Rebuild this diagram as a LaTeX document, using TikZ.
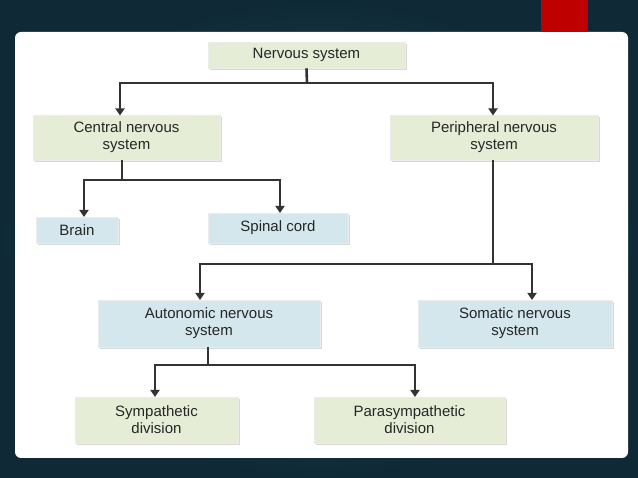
\documentclass[tikz,border=0pt]{standalone}
\usepackage{fontspec}
\setmainfont{Liberation Sans}
\usetikzlibrary{arrows.meta,shadows}
\definecolor{bgA}{HTML}{1E4A5A}
\definecolor{bgB}{HTML}{0F2A36}
\definecolor{grn}{HTML}{E6EDD6}
\definecolor{blu}{HTML}{D3E7EC}
\definecolor{ln}{HTML}{333333}
\begin{document}
\begin{tikzpicture}[x=1pt,y=-1pt,
 box/.style={draw=white!85!gray,line width=0.6pt,inner sep=0pt,align=center,text=black!85,
   font=\fontsize{15}{17}\selectfont,drop shadow={shadow xshift=2pt,shadow yshift=-2pt,fill=gray!60}},
 g/.style={box,fill=grn},
 b/.style={box,fill=blu},
 con/.style={draw=ln,line width=2.6pt},
 arr/.style={con,-{Triangle[length=7pt,width=9pt]}}]
\useasboundingbox (0,0) rectangle (638,478);
\shade[inner color=bgA,outer color=bgB] (0,0) rectangle (638,478);
\fill[white] (15,32) [rounded corners=6pt] rectangle (628,458);
\fill[red!75!black] (541,0) rectangle (588,32);
\node[g,minimum width=197pt,minimum height=26pt] (ns) at (306.5,55) {Nervous system};
\node[g,minimum width=187pt,minimum height=45pt] (cns) at (126.5,137.5) {Central nervous\\system};
\node[g,minimum width=208pt,minimum height=45pt] (pns) at (494,137.5) {Peripheral nervous\\system};
\node[b,minimum width=82pt,minimum height=26pt] (br) at (77,230) {Brain};
\node[b,minimum width=140pt,minimum height=30pt] (sc) at (278,228) {Spinal cord};
\node[b,minimum width=222pt,minimum height=47pt] (ans) at (209,323.5) {Autonomic nervous\\system};
\node[b,minimum width=194pt,minimum height=47pt] (sns) at (515,323.5) {Somatic nervous\\system};
\node[g,minimum width=163pt,minimum height=46pt] (sym) at (156.5,420) {Sympathetic\\division};
\node[g,minimum width=191pt,minimum height=46pt] (par) at (409.5,420) {Parasympathetic\\division};
\coordinate (j1) at (307,83);
\coordinate (j2) at (122,180);
\coordinate (j3) at (493,264);
\coordinate (j4) at (208,365);
\draw[con] (ns.south) -- (j1);
\draw[arr] (j1) -| (120,115.5);
\draw[arr] (j1) -| (493,115.5);
\draw[con] (122,160) -- (j2);
\draw[arr] (j2) -| (84,217);
\draw[arr] (j2) -| (280,213);
\draw[con] (493,160) -- (j3);
\draw[arr] (j3) -| (200,300);
\draw[arr] (j3) -| (532,300);
\draw[con] (208,347) -- (j4);
\draw[arr] (j4) -| (155,397);
\draw[arr] (j4) -| (415,397);
\end{tikzpicture}
\end{document}
